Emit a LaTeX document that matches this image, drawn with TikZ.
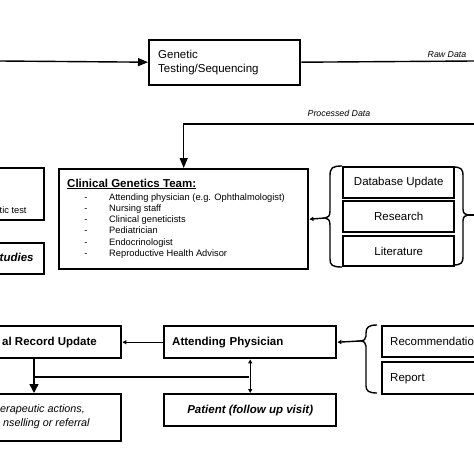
\documentclass[tikz,border=0pt]{standalone}
\usepackage{fontspec}
\setmainfont{Liberation Sans}
\usetikzlibrary{arrows.meta,calc}
\begin{document}
\begin{tikzpicture}[x=1pt,y=-1pt,
  box/.style={draw,line width=2.4pt,inner sep=0pt,anchor=north west},
  conn/.style={line width=1.4pt},
  bigarr/.style={conn,-{Triangle[length=10pt,width=8pt]}},
  smallarr/.style={conn,-{Triangle[length=4pt,width=4pt]}},
  brc/.style={line width=1.4pt},
  fbig/.style={font=\fontsize{11.5}{14}\selectfont},
  fbold/.style={font=\fontsize{11.5}{14}\selectfont\bfseries},
  fbi/.style={font=\fontsize{11.5}{14}\selectfont\bfseries\itshape},
  fit/.style={font=\fontsize{10.8}{13}\selectfont\itshape},
  fsmall/.style={font=\fontsize{9.3}{11}\selectfont},
  flab/.style={font=\fontsize{8.8}{10}\selectfont\itshape},
  txt/.style={inner sep=0pt}]
\useasboundingbox (0,0) rectangle (474,474);
\clip (0,0) rectangle (474,474);

% top: genetic testing
\node[box,fbig,minimum width=151pt,minimum height=45pt,text width=133pt,inner xsep=9pt,align=left] (gen) at (148,38.5) {Genetic\\Testing/Sequencing};
\coordinate (inL) at (0,61);
\coordinate (rawR) at (474,61);
\draw[bigarr] (inL) -- (gen.west);
\draw[conn] (gen.east) -- (rawR);
\node[txt,flab,anchor=base] (rawlab) at (447,57) {Raw Data};

% clinical genetics team
\node[box,minimum width=249pt,minimum height=100pt] (clin) at (58,168) {};
\node[txt,fbold,anchor=base west] (ctitle) at (67,187) {\underline{Clinical Genetics Team:}};
\foreach \y/\t [count=\i] in {200.3/{Attending physician (e.g. Ophthalmologist)},211.5/{Nursing staff},222.7/{Clinical geneticists},233.9/{Pediatrician},245.1/{Endocrinologist},256.3/{Reproductive Health Advisor}}{
  \node[txt,fsmall,anchor=base] (cd\i) at (86,\y) {-};
  \node[txt,fsmall,anchor=base west] (ci\i) at (109,\y) {\t};
}
\coordinate (procR) at (474,124);
\draw[bigarr] (procR) -| (clin.north);
\node[txt,flab,anchor=base] (proclab) at (339,116) {Processed Data};

% left cut-off boxes
\node[box,minimum width=63pt,minimum height=52pt] (lb1) at (-20,167) {};
\node[txt,fsmall,anchor=base west] (lb1t) at (-0.5,213) {tic test};
\node[box,minimum width=63pt,minimum height=31pt] (lb2) at (-20,242) {};
\node[txt,fbi,anchor=base west] (lb2t) at (-0.5,261) {tudies};

% database group
\node[box,fbig,minimum width=111pt,minimum height=31pt] (db) at (342,166) {Database Update};
\node[box,fbig,minimum width=111pt,minimum height=31pt] (res) at (342,200) {Research};
\node[box,fbig,minimum width=111pt,minimum height=30pt] (lit) at (342,235) {Literature};
\draw[brc] (342,166) .. controls (332,166) and (330,168) .. (330,176) -- (330,211)
  .. controls (330,216) and (328,218) .. (325,218)
  .. controls (328,218) and (330,220) .. (330,225) -- (330,259)
  .. controls (330,265) and (332,267) .. (342,267);
\draw[brc] (453,167) .. controls (461,167) and (463,169) .. (463,176) -- (463,209)
  .. controls (463,213) and (465,215) .. (468,215)
  .. controls (465,215) and (463,217) .. (463,221) -- (463,257)
  .. controls (463,263) and (461,265) .. (453,265);
\coordinate (b1) at (325,218);
\coordinate (b2) at (468,215);
\coordinate (b2R) at (474,215);
\draw[smallarr] (b1) -- (clin.east);
\draw[conn] (b2) -- (b2R);

% bottom row
\node[box,minimum width=140pt,minimum height=32pt] (medrec) at (-20,325) {};
\node[txt,fbold,anchor=base east] (medrect) at (97,345) {al Record Update};
\node[box,fbold,minimum width=172pt,minimum height=32pt,text width=156pt,inner xsep=8pt,align=left] (att) at (163,325) {Attending Physician};
\node[box,fbi,minimum width=172pt,minimum height=32pt] (pat) at (163,393) {Patient (follow up visit)};
\node[box,minimum width=140pt,minimum height=47pt] (ther) at (-20,393) {};
\node[txt,fit,anchor=base west] (ther1) at (0,412.5) {erapeutic actions,};
\node[txt,fit,anchor=base west] (ther2) at (3,426.5) {nselling or referral};
\node[box,minimum width=110pt,minimum height=31pt] (rec) at (381,325) {};
\node[txt,fbig,anchor=base west] (rect) at (390,345.5) {Recommendatio};
\node[box,minimum width=110pt,minimum height=32pt] (rep) at (381,361) {};
\node[txt,fbig,anchor=base west] (rept) at (390,381) {Report};
\draw[brc] (377,325) .. controls (369,325) and (366,327) .. (366,333) -- (366,336)
  .. controls (366,339) and (364,341) .. (360,341)
  .. controls (364,341) and (366,343) .. (366,346) -- (366,386)
  .. controls (366,391) and (369,393) .. (377,393);
\coordinate (b3) at (360,341);
\draw[smallarr] (b3) -- (att.east);
\draw[smallarr] (att.west) -- (medrec.east);
\coordinate (j1) at (34,377);
\coordinate (j2) at (249,377);
\draw[conn,-{Triangle[length=9pt,width=9pt]}] (j1 |- medrec.south) -- (j1 |- ther.north);
\draw[conn] (j1) -- (j2);
\draw[conn,{Triangle[length=4pt,width=4pt]}-{Triangle[length=4pt,width=4pt]}] (att.south) -- (pat.north);
\end{tikzpicture}
\end{document}
